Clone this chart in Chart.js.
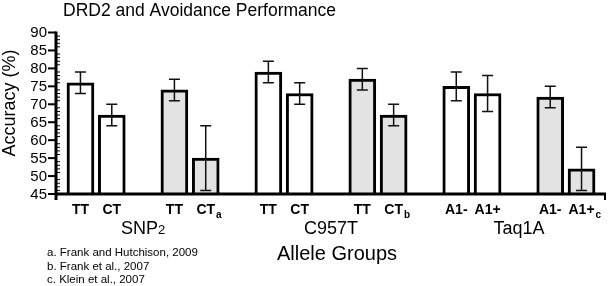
<!DOCTYPE html>
<html>
<head>
<meta charset="utf-8">
<script src="https://cdn.jsdelivr.net/npm/chart.js@4"></script>
<style>
  html, body { margin: 0; padding: 0; background: #fff; }
  #wrap { width: 609px; height: 286px; }
</style>
</head>
<body>
<div id="wrap"><canvas id="drdChart" width="609" height="286"></canvas></div>
<script>
// categories (blank entries are the gaps between pairs)
const alleles = ['TT', 'CT', '', 'TT', 'CT', '', 'TT', 'CT', '', 'TT', 'CT', '', 'A1-', 'A1+', '', 'A1-', 'A1+'];
const notes = ['', '', '', '', 'a', '', '', '', '', '', 'b', '', '', '', '', '', 'c'];
const accuracy = [76, 67, null, 74, 55, null, 79, 73, null, 77, 67, null, 75, 73, null, 72, 52];
const errors = [3, 3, null, 3, 9, null, 3, 3, null, 3, 3, null, 4, 5, null, 3, 6];
const shaded = [false, false, null, true, true, null, false, false, null, true, true, null, false, false, null, true, true];
const groups = [['SNP', '2'], ['C957T', ''], ['Taq1A', '']];
const groupCenters = [2, 8, 14];
const footnotes = ['a. Frank and Hutchison, 2009', 'b. Frank et al., 2007', 'c. Klein et al., 2007'];
const yMin = 45, yMax = 90;

const FONT = '"Liberation Sans", Arial, sans-serif';

// axes, ticks, error bars and text
const decor = {
    id: 'decor',
    afterDatasetsDraw(chart) {
        const ctx = chart.ctx;
        const y = chart.scales.y;
        const meta = chart.getDatasetMeta(0);
        ctx.save();
        ctx.strokeStyle = '#111';
        ctx.lineWidth = 1.5;
        accuracy.forEach((v, i) => {
            if (v === null) return;
            const bx = meta.data[i].x;
            const top = y.getPixelForValue(v + errors[i]);
            const bot = y.getPixelForValue(v - errors[i]);
            ctx.beginPath();
            ctx.moveTo(bx, top); ctx.lineTo(bx, bot);
            ctx.moveTo(bx - 5.5, top); ctx.lineTo(bx + 5.5, top);
            ctx.moveTo(bx - 5.5, bot); ctx.lineTo(bx + 5.5, bot);
            ctx.stroke();
        });
        ctx.restore();
    },
    afterDraw(chart) {
        const ctx = chart.ctx;
        const x = chart.scales.x, y = chart.scales.y;
        const y0 = y.getPixelForValue(yMin);
        const yTop = y.getPixelForValue(yMax);
        ctx.save();
        ctx.strokeStyle = '#000';
        ctx.fillStyle = '#000';

        // y ticks
        for (let v = yMin; v <= yMax; v++) {
            const py = y.getPixelForValue(v);
            ctx.beginPath();
            if (v % 5 === 0) {
                ctx.lineWidth = 2;
                ctx.moveTo(48, py); ctx.lineTo(56, py);
            } else {
                ctx.lineWidth = 1;
                ctx.moveTo(57, py); ctx.lineTo(60, py);
            }
            ctx.stroke();
            if (v % 5 === 0) {
                ctx.font = '15px ' + FONT;
                ctx.textAlign = 'right';
                ctx.textBaseline = 'middle';
                ctx.fillText(String(v), 47, py + 0.5);
            }
        }

        // axis lines
        ctx.lineWidth = 3;
        ctx.beginPath();
        ctx.moveTo(56, yTop - 1); ctx.lineTo(56, y0 + 6);
        ctx.moveTo(55, y0); ctx.lineTo(606, y0);
        ctx.stroke();
        ctx.lineWidth = 2;
        ctx.beginPath();
        ctx.moveTo(605, y0); ctx.lineTo(605, y0 + 6);
        ctx.stroke();

        // category labels
        ctx.textBaseline = 'alphabetic';
        alleles.forEach((lab, i) => {
            if (!lab) return;
            const px = x.getPixelForValue(i);
            ctx.font = 'bold 14px ' + FONT;
            ctx.textAlign = 'center';
            ctx.fillText(lab, px, y0 + 20);
            if (notes[i]) {
                const w = ctx.measureText(lab).width;
                ctx.font = 'bold 10px ' + FONT;
                ctx.textAlign = 'left';
                ctx.fillText(notes[i], px + w / 2 + 1, y0 + 24);
            }
        });

        // group labels
        groups.forEach((g, k) => {
            const px = x.getPixelForValue(groupCenters[k]);
            ctx.font = '18px ' + FONT;
            const w1 = ctx.measureText(g[0]).width;
            ctx.font = '13px ' + FONT;
            const w2 = g[1] ? ctx.measureText(g[1]).width : 0;
            const start = px - (w1 + w2) / 2;
            ctx.textAlign = 'left';
            ctx.font = '18px ' + FONT;
            ctx.fillText(g[0], start, y0 + 40);
            if (g[1]) {
                ctx.font = '13px ' + FONT;
                ctx.fillText(g[1], start + w1, y0 + 40);
            }
        });

        // axis titles
        ctx.font = '20px ' + FONT;
        ctx.textAlign = 'center';
        ctx.textBaseline = 'middle';
        ctx.fillText('Allele Groups', 337, 254);

        ctx.save();
        ctx.translate(10, 103);
        ctx.rotate(-Math.PI / 2);
        ctx.font = '18px ' + FONT;
        ctx.fillText('Accuracy (%)', 0, 0);
        ctx.restore();

        // title
        ctx.font = '17.5px ' + FONT;
        ctx.textAlign = 'left';
        ctx.textBaseline = 'alphabetic';
        ctx.fillText('DRD2 and Avoidance Performance', 63, 16);

        // footnotes
        ctx.font = '11.5px ' + FONT;
        ctx.textBaseline = 'middle';
        footnotes.forEach((f, k) => {
            ctx.fillText(f, 47, 253 + k * 13.5);
        });
        ctx.restore();
    }
};

const ctx = document.getElementById('drdChart').getContext('2d');
new Chart(ctx, {
    type: 'bar',
    data: {
        labels: alleles,
        datasets: [{
            data: accuracy,
            base: yMin,
            backgroundColor: shaded.map(s => s ? '#e3e3e3' : '#ffffff'),
            borderColor: '#000',
            borderWidth: 3,
            barThickness: 27,
        }]
    },
    options: {
        responsive: false,
        animation: false,
        events: [],
        layout: { padding: { left: 64.8, right: 11.8, top: 32.5, bottom: 92 } },
        plugins: { legend: { display: false }, tooltip: { enabled: false } },
        scales: {
            x: { display: false, offset: true, grid: { display: false } },
            y: { display: false, min: yMin, max: yMax, grid: { display: false } }
        }
    },
    plugins: [decor]
});
</script>
</body>
</html>
